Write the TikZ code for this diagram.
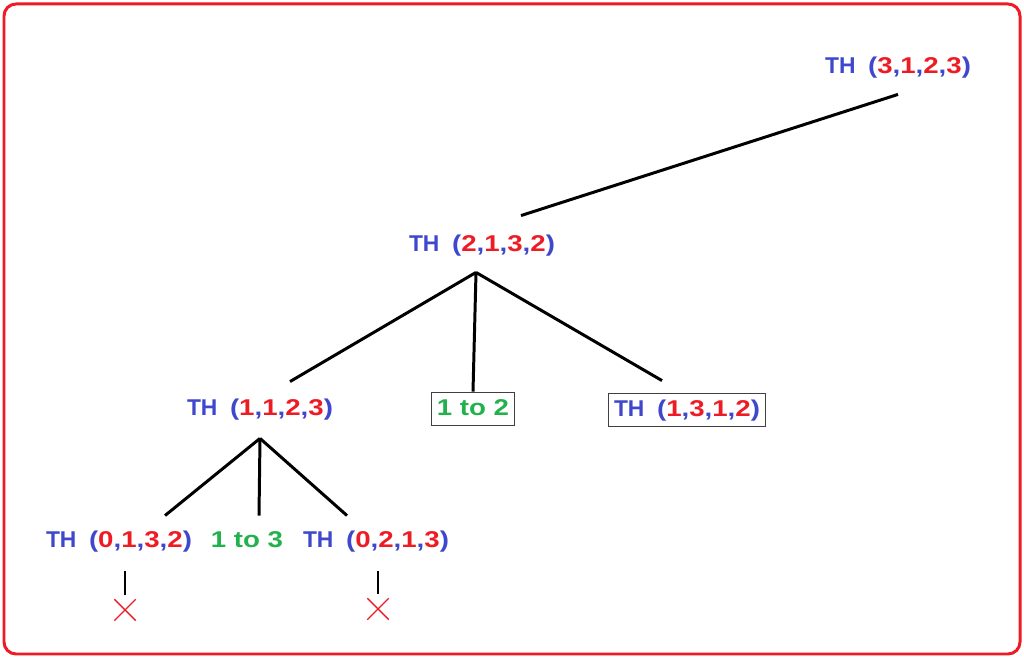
\documentclass[tikz,border=0pt]{standalone}
\usepackage{fontspec}
\newfontfamily\lblfont{Liberation Sans}
\usepackage{graphicx}
\usepackage{xcolor}
\usepackage{tikz}
\usetikzlibrary{calc,shapes.misc}
\definecolor{thblue}{RGB}{63,72,204}
\definecolor{thred}{RGB}{237,28,36}
\definecolor{thgreen}{RGB}{34,177,76}
\newcommand{\wide}[1]{\scalebox{1.21}[1]{#1}}
\newcommand{\thcall}[4]{\textcolor{thblue}{TH}\hspace{0.55em}\wide{\textcolor{thblue}{(}\textcolor{thred}{#1}\textcolor{thblue}{,}\textcolor{thred}{#2}\textcolor{thblue}{,}\textcolor{thred}{#3}\textcolor{thblue}{,}\textcolor{thred}{#4}\textcolor{thblue}{)}}}
\newcommand{\move}[2]{\wide{\textcolor{thgreen}{#1 to #2}}}
\tikzset{
  call/.style={inner sep=0pt,text height=9.8pt,text depth=2.8pt,font=\fontsize{13}{15}\lblfont\bfseries},
  boxed/.style={draw=black!75,line width=0.6pt,inner xsep=3.2pt,inner ysep=3.3pt},
  dead/.style={cross out,draw=thred,line width=0.8pt,minimum size=0.4cm,inner sep=0pt},
  branch/.style={line width=1.7pt,draw=black},
  stem/.style={line width=1.1pt,draw=black},
  frame/.style={line width=1.7pt,draw=thred,rounded corners=0.24cm},
}
\begin{document}
\begin{tikzpicture}[x=0.02cm,y=0.02cm]
  \useasboundingbox (0,0) rectangle (1024,658);
  \draw[frame] (4,4) rectangle (1020,654);
  \node[call] (rt) at (898,591) {\thcall3123};
  \node[call] (th2) at (482,413) {\thcall2132};
  \node[call] (th3) at (260,249) {\thcall1123};
  \node[call,boxed] (mv12) at (473,249) {\move12};
  \node[call,boxed] (th4) at (687,248) {\thcall1312};
  \node[call] (th5) at (119,117) {\thcall0132};
  \node[call] (mv13) at (247,117) {\move13};
  \node[call] (th6) at (376,117) {\thcall0213};
  \node[dead] (x5) at (125,48) {};
  \node[dead] (x6) at (378,49) {};
  \coordinate (th2b) at ($(th2.south)+(-6,-16)$);
  \coordinate (th3b) at ($(th3.south)+(0,-18)$);
  \draw[branch] ($(th2.north)+(39,18)$) -- ($(rt.south)+(0,-16)$);
  \draw[branch] (th2b) -- ($(th3.north)+(30,16)$);
  \draw[branch] (th2b) -- (mv12.north);
  \draw[branch] (th2b) -- ($(th4.north)+(-25,12)$);
  \draw[branch] (th3b) -- ($(th5.north)+(46,14)$);
  \draw[branch] (th3b) -- ($(mv13.north)+(12,14)$);
  \draw[branch] (th3b) -- ($(th6.north)+(-29,14)$);
  \draw[stem] ($(x5.north)+(0,4)$) -- ($(x5.north |- th5.south)+(0,-19)$);
  \draw[stem] ($(x6.north)+(0,4)$) -- ($(x6.north |- th6.south)+(0,-19)$);
\end{tikzpicture}
\end{document}
